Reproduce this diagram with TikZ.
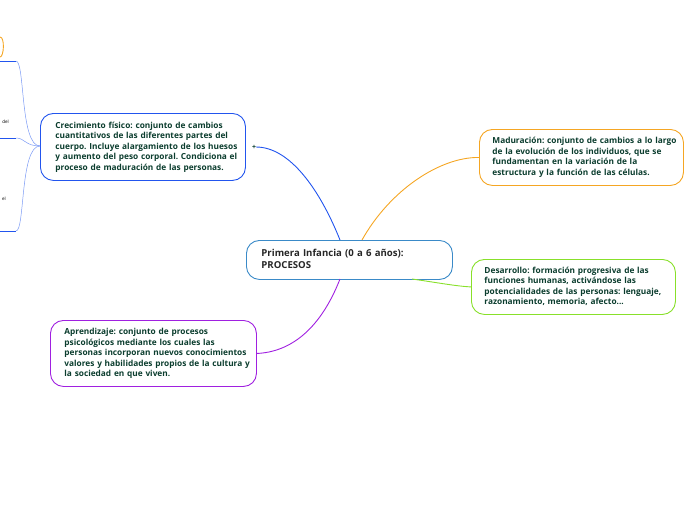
\documentclass[tikz,border=0pt]{standalone}
\usepackage{fontspec}
\setmainfont{Open Sans}
\frenchspacing
\definecolor{txt}{HTML}{0B3D2E}
\definecolor{cb}{HTML}{2255EE}
\definecolor{co}{HTML}{F5A623}
\definecolor{cg}{HTML}{88E02A}
\definecolor{cp}{HTML}{A020E0}
\definecolor{cc}{HTML}{3A8AC8}
\newcommand{\tb}[2]{\hspace*{#1pt}\begin{tabular}{@{}l@{}}#2\end{tabular}}
\begin{document}
\begin{tikzpicture}[x=1pt,y=-1pt,
  topic/.style={draw,line width=0.9pt,rounded corners=13pt,fill=white,align=left,anchor=north west,inner sep=0pt,font=\bfseries\fontsize{8.3}{10.5}\selectfont,text=txt},
  con/.style={line width=0.9pt}]
\useasboundingbox (0,0) rectangle (697,520);
\node[topic,draw=cc,text width=206pt,minimum height=39pt,font=\bfseries\fontsize{9.6}{12.5}\selectfont,text=black!85] (c) at (246,240) {\tb{15}{Primera Infancia (0 a 6 años):\\PROCESOS}};
\node[topic,draw=cb,text width=205pt,minimum height=67pt] (cr) at (40,113) {\tb{15}{Crecimiento físico: conjunto de cambios\\cuantitativos de las diferentes partes del\\cuerpo. Incluye alargamiento de los huesos\\y aumento del peso corporal. Condiciona el\\proceso de maduración de las personas.}};
\node[topic,draw=co,text width=204pt,minimum height=56pt] (m) at (479,129) {\tb{13}{Maduración: conjunto de cambios a lo largo\\de la evolución de los individuos, que se\\fundamentan en la variación de la\\estructura y la función de las células.}};
\node[topic,draw=cg,text width=204pt,minimum height=55pt] (d) at (471,259) {\tb{13}{Desarrollo: formación progresiva de las\\funciones humanas, activándose las\\potencialidades de las personas: lenguaje,\\razonamiento, memoria, afecto...}};
\node[topic,draw=cp,text width=206pt,minimum height=66pt] (a) at (50,320) {\tb{14}{Aprendizaje: conjunto de procesos\\psicológicos mediante los cuales las\\personas incorporan nuevos conocimientos\\valores y habilidades propios de la cultura y\\la sociedad en que viven.}};
\coordinate (cbt) at (340,240);
\coordinate (cot) at (362,240);
\coordinate (cgb) at (412,279);
\coordinate (cpb) at (340,279);
\coordinate (icon) at (256,147);
\draw[con,cb] (cbt) .. controls (320,190) and (290,147) .. (icon);
\node[font=\bfseries\fontsize{7}{7}\selectfont,text=txt,inner sep=0pt] (ic) at (254,147) {+};
\draw[con,co] (cot) .. controls (390,190) and (440,157) .. (m.west);
\draw[con,cg] (cgb) .. controls (440,283) and (455,286) .. (d.west);
\draw[con,cp] (cpb) .. controls (320,330) and (290,352) .. (a.east);
% left partial branches
\coordinate (l0) at (40,146);
\coordinate (b1) at (0,61);
\coordinate (b2) at (0,138);
\coordinate (b3) at (0,231);
\draw[cb!60,line width=0.5pt] (l0) .. controls (20,146) and (25,61) .. (16,61);
\draw[cb!60,line width=0.5pt] (l0) .. controls (25,146) and (25,138) .. (16,138);
\draw[cb!60,line width=0.5pt] (l0) .. controls (20,146) and (25,231) .. (16,231);
\draw[cb,line width=1pt] (b1) -- (16,61);
\draw[cb,line width=1pt] (b2) -- (16,138);
\draw[cb,line width=1pt] (b3) -- (16,231);
\node[anchor=east,font=\fontsize{4.5}{5}\selectfont,inner sep=0pt] (t1) at (9,122) {del};
\node[anchor=east,font=\fontsize{4.5}{5}\selectfont,inner sep=0pt] (t2) at (6,199) {el};
\draw[co,line width=0.9pt] (0,37) .. controls (5,37) and (4,57) .. (0,57);
\end{tikzpicture}
\end{document}
